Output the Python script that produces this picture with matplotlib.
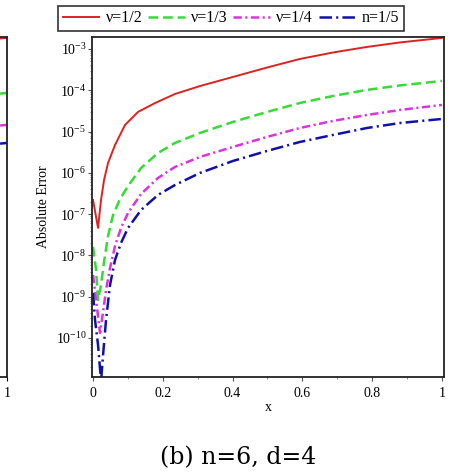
import matplotlib
matplotlib.use("Agg")
import matplotlib.pyplot as plt
import numpy as np
from matplotlib.ticker import LogLocator, FixedLocator, NullFormatter, FuncFormatter

plt.rcParams['font.family'] = ['Liberation Serif', 'DejaVu Serif']
plt.rcParams['mathtext.fontset'] = 'custom'
plt.rcParams['mathtext.rm'] = 'Liberation Serif'
plt.rcParams['mathtext.it'] = 'Liberation Serif:italic'
plt.rcParams['lines.scale_dashes'] = False

# ---------------- data (main panel b) ----------------
labels = ['ν=1/2', 'ν=1/3', 'ν=1/4', 'n=1/5']
colors = ['#dd2222', '#33dd33', '#dd33dd', '#1111aa']

x_half = [0.0, 0.0143, 0.0229, 0.0315, 0.043, 0.063, 0.0917, 0.129, 0.178, 0.235,
          0.307, 0.401, 0.499, 0.593, 0.688, 0.785, 0.880, 1.0]
err_half = [2.21e-7, 4.63e-8, 2.21e-7, 6.7e-7, 1.74e-6, 4.74e-6, 1.45e-5, 2.99e-5, 4.92e-5, 8.13e-5,
            1.27e-4, 2.10e-4, 3.56e-4, 5.73e-4, 8.22e-4, 1.12e-3, 1.44e-3, 1.85e-3]

x_third = [0.0, 0.0086, 0.0143, 0.0229, 0.0315, 0.043, 0.0573, 0.0774, 0.1003, 0.1376,
           0.1862, 0.235, 0.3066, 0.401, 0.4986, 0.5931, 0.6877, 0.7851, 0.8797, 1.0]
err_third = [1.61e-8, 4.46e-9, 8.37e-10, 1.93e-9, 6.96e-9, 2.96e-8, 9.57e-8, 2.33e-7, 4.82e-7, 1.31e-6,
             3.03e-6, 5.30e-6, 9.25e-6, 1.71e-5, 2.98e-5, 4.92e-5, 7.28e-5, 1.02e-4, 1.31e-4, 1.68e-4]

x_quarter = [0.0, 0.0086, 0.0201, 0.0287, 0.0372, 0.0487, 0.063, 0.0802, 0.1003, 0.1376,
             0.1862, 0.235, 0.3066, 0.401, 0.4986, 0.5931, 0.6877, 0.7851, 0.8797, 1.0]
err_quarter = [3.37e-9, 8.37e-10, 1.33e-10, 4.29e-10, 1.46e-9, 4.98e-9, 1.70e-8, 4.63e-8, 1.07e-7, 3.08e-7,
               7.53e-7, 1.39e-6, 2.43e-6, 4.24e-6, 7.40e-6, 1.22e-5, 1.81e-5, 2.52e-5, 3.33e-5, 4.41e-5]

x_fifth = [0.0, 0.0057, 0.0143, 0.0229, 0.0287, 0.0372, 0.0487, 0.063, 0.0802, 0.1003, 0.1376,
           0.1862, 0.235, 0.3066, 0.401, 0.4986, 0.5931, 0.6877, 0.7851, 0.8797, 1.0]
err_fifth = [1.24e-9, 2.74e-10, 6.81e-11, 9.0e-12, 3.90e-11, 2.74e-10, 1.93e-9, 7.78e-9, 2.01e-8, 4.63e-8,
             1.26e-7, 2.92e-7, 5.09e-7, 9.95e-7, 1.94e-6, 3.39e-6, 5.60e-6, 8.28e-6, 1.22e-5, 1.61e-5, 2.02e-5]

# neighbouring panel (a), only its right end is visible
x_left = [0.98, 1.0]
err_left = [[1.8e-3, 1.85e-3], [8.3e-5, 8.6e-5], [1.40e-5, 1.45e-5], [5.1e-6, 5.3e-6]]

x_ticks = [0, 0.2, 0.4, 0.6, 0.8, 1]
x_ticklabels = ['0', '0.2', '0.4', '0.6', '0.8', '1']

styles = ['-', (0, (7, 3.5)), (0, (6, 2.5, 1.5, 2.5)), (0, (9, 3, 1.5, 3))]
widths = [1.4, 1.8, 1.8, 1.8]

W = H = 474
fig = plt.figure(figsize=(4.74, 4.74), dpi=100)

def px_axes(l, t, r, b):
    return fig.add_axes([l / W, 1 - b / H, (r - l) / W, (b - t) / H])

ylo, yhi = 10 ** -10.944, 10 ** -2.71

# left neighbour panel
axl = px_axes(-340, 37, 7, 377)
for e, c, s, w in zip(err_left, colors, styles, widths):
    axl.plot(x_left, e, color=c, linestyle=s, linewidth=w)
axl.set_yscale('log')
axl.set_ylim(ylo, yhi)
axl.set_xlim(-0.003, 1.0)
axl.set_xticks([1])
axl.set_xticklabels(['1'])
axl.set_yticks([])
axl.yaxis.set_minor_locator(FixedLocator([]))
axl.tick_params(axis='x', direction='out', length=3, labelsize=10, pad=4)
for sp in axl.spines.values():
    sp.set_linewidth(1.3)
    sp.set_color('#222222')

# main panel
ax = px_axes(92, 37, 444, 377)
series = [(x_half, err_half), (x_third, err_third), (x_quarter, err_quarter), (x_fifth, err_fifth)]
handles = []
for (xs, ys), c, s, w, lab in zip(series, colors, styles, widths, labels):
    h, = ax.plot(xs, ys, color=c, linestyle=s, linewidth=w, label=lab)
    handles.append(h)

ax.set_yscale('log')
ax.set_ylim(ylo, yhi)
ax.set_xlim(-0.003, 1.006)
ax.set_xticks(x_ticks)
ax.set_xticklabels(x_ticklabels)
ax.xaxis.set_minor_locator(FixedLocator([0.1, 0.3, 0.5, 0.7, 0.9]))
ax.yaxis.set_major_locator(FixedLocator([10.0 ** k for k in range(-10, -2)]))
ax.yaxis.set_major_formatter(FuncFormatter(lambda v, p: r'$10^{%d}$' % int(round(np.log10(v)))))
ax.yaxis.set_minor_locator(LogLocator(base=10, subs=np.arange(2, 10), numticks=20))
ax.yaxis.set_minor_formatter(NullFormatter())
ax.tick_params(axis='both', which='major', direction='out', length=3, width=0.8, labelsize=10, color='#555555')
ax.tick_params(axis='both', which='minor', direction='out', length=1.5, width=0.6, color='#777777')
ax.tick_params(axis='y', pad=1)
ax.tick_params(axis='x', pad=4)
for sp in ax.spines.values():
    sp.set_linewidth(1.3)
    sp.set_color('#222222')

ax.set_xlabel('x', fontsize=10, labelpad=1)
ax.set_ylabel('Absolute Error', fontsize=10, labelpad=4)

leg = fig.legend(handles=handles, loc='center', bbox_to_anchor=(231 / W, 1 - 18.5 / H),
                 ncol=4, fontsize=11.5, frameon=True, fancybox=False, edgecolor='black',
                 handlelength=2.3, handletextpad=0.4, columnspacing=0.35, borderpad=0.3,
                 borderaxespad=0)
leg.get_frame().set_linewidth(1.2)

fig.text(238 / W, 1 - 458 / H, '(b) n=6, d=4', ha='center', va='center', fontsize=17,
         family=['DejaVu Serif'])

fig.savefig('out.png', dpi=100)
